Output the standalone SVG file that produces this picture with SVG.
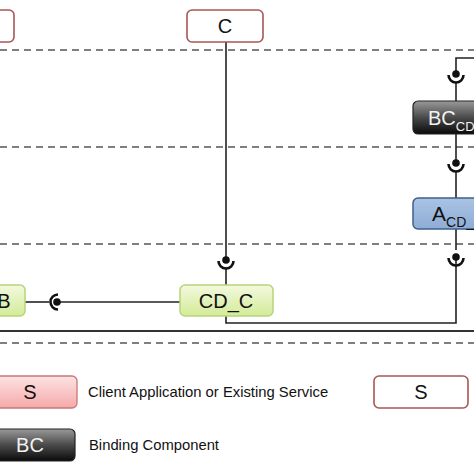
<svg xmlns="http://www.w3.org/2000/svg" width="474" height="474" viewBox="0 0 474 474">
<defs>
<linearGradient id="gGreen" x1="0" y1="0" x2="0" y2="1">
<stop offset="0" stop-color="#f3f9de"/><stop offset="1" stop-color="#d3eb98"/>
</linearGradient>
<linearGradient id="gDark" x1="0" y1="0" x2="0" y2="1">
<stop offset="0" stop-color="#9a9a9a"/><stop offset="0.5" stop-color="#4a4a4a"/><stop offset="1" stop-color="#0a0a0a"/>
</linearGradient>
<linearGradient id="gPink" x1="0" y1="0" x2="0" y2="1">
<stop offset="0" stop-color="#fde3e3"/><stop offset="1" stop-color="#f5a9a9"/>
</linearGradient>
<linearGradient id="gBlue" x1="0" y1="0" x2="0" y2="1">
<stop offset="0" stop-color="#a9c3e3"/><stop offset="1" stop-color="#8eadd6"/>
</linearGradient>
</defs>
<style>
.dash{stroke:#555;stroke-width:1.6;stroke-dasharray:7 5;fill:none}
.wire{stroke:#222;stroke-width:1.6;fill:none}
.cup{stroke:#111;stroke-width:2.6;fill:none}
.ball{fill:#111}
.white{fill:#fff;stroke:#a85555;stroke-width:1.6}
.green{fill:url(#gGreen);stroke:#b8d47a;stroke-width:1.5}
.dark{fill:url(#gDark);stroke:#222;stroke-width:1.2}
.pink{fill:url(#gPink);stroke:#c77878;stroke-width:1.3}
.blue{fill:url(#gBlue);stroke:#3f5f8a;stroke-width:1.5}
.t{font-family:"Liberation Sans",Arial,sans-serif;font-size:20px;fill:#111;text-anchor:middle}
.tw{font-family:"Liberation Sans",Arial,sans-serif;font-size:20px;fill:#f2f2f2}
.tb{font-family:"Liberation Sans",Arial,sans-serif;font-size:21px;fill:#111}
.lab{font-family:"Liberation Sans",Arial,sans-serif;font-size:14.8px;fill:#111}
</style>
<g id="lanes">
<line class="dash" x1="0" y1="50" x2="474" y2="50"/>
<line class="dash" x1="0" y1="147" x2="474" y2="147"/>
<line class="dash" x1="0" y1="244" x2="474" y2="244"/>
<line class="dash" x1="0" y1="343" x2="474" y2="343"/>
<line x1="0" y1="331" x2="474" y2="331" stroke="#333" stroke-width="1.8"/>
</g>
<g id="connectors">
<path class="wire" d="M226 42 V260"/>
<path class="wire" d="M226 268 V285"/>
<path class="wire" d="M180 302 H57"/>
<path class="wire" d="M49 302 H25"/>
<path class="wire" d="M226 316 V323 H456 V257"/>
<path class="wire" d="M474 58 H456 V74"/>
<path class="wire" d="M456 82 V101"/>
<path class="wire" d="M456 134 V163"/>
<path class="wire" d="M456 171 V198"/>
<path class="wire" d="M456 229 V250"/>
</g>
<g id="sockets">
<circle class="ball" cx="226" cy="260" r="3.8"/><path class="cup" d="M218.5 261 A7.5 7.5 0 0 0 233.5 261"/>
<circle class="ball" cx="57" cy="302" r="3.8"/><path class="cup" d="M58 294.5 A7.5 7.5 0 0 0 58 309.5"/>
<circle class="ball" cx="456" cy="74" r="3.8"/><path class="cup" d="M448.5 75 A7.5 7.5 0 0 0 463.5 75"/>
<circle class="ball" cx="456" cy="163" r="3.8"/><path class="cup" d="M448.5 164 A7.5 7.5 0 0 0 463.5 164"/>
<circle class="ball" cx="456" cy="257" r="3.8"/><path class="cup" d="M448.5 258 A7.5 7.5 0 0 0 463.5 258"/>
</g>
<g id="node-left-top"><rect class="white" x="-20" y="10" width="34" height="32" rx="5"/></g>
<g id="node-C"><rect class="white" x="187" y="10" width="76" height="32" rx="5"/><text class="t" x="225" y="33">C</text></g>
<g id="node-BC"><rect class="dark" x="413" y="101" width="80" height="33" rx="5"/><text class="tw" x="428" y="125">BC<tspan font-size="13" dy="6">CD_</tspan></text></g>
<g id="node-A"><rect class="blue" x="413" y="198" width="80" height="31" rx="5"/><text class="tb" x="432" y="221">A<tspan font-size="14" dy="6">CD_</tspan></text></g>
<g id="node-CD_C"><rect class="green" x="180" y="285" width="93" height="31" rx="5"/><text class="t" x="226" y="308">CD_C</text></g>
<g id="node-B"><rect class="green" x="-30" y="285" width="55" height="31" rx="5"/><text class="t" x="4" y="308">B</text></g>
<g id="legend">
<rect class="pink" x="-10" y="376" width="87" height="32" rx="5"/><text class="t" x="30" y="399">S</text>
<text class="lab" x="88" y="397">Client Application or Existing Service</text>
<rect class="white" x="374" y="376" width="94" height="32" rx="5"/><text class="t" x="421" y="399">S</text>
<rect class="dark" x="-10" y="429" width="85" height="32" rx="5"/><text class="tw" x="30" y="452" text-anchor="middle">BC</text>
<text class="lab" x="89" y="450">Binding Component</text>
</g>
</svg>
